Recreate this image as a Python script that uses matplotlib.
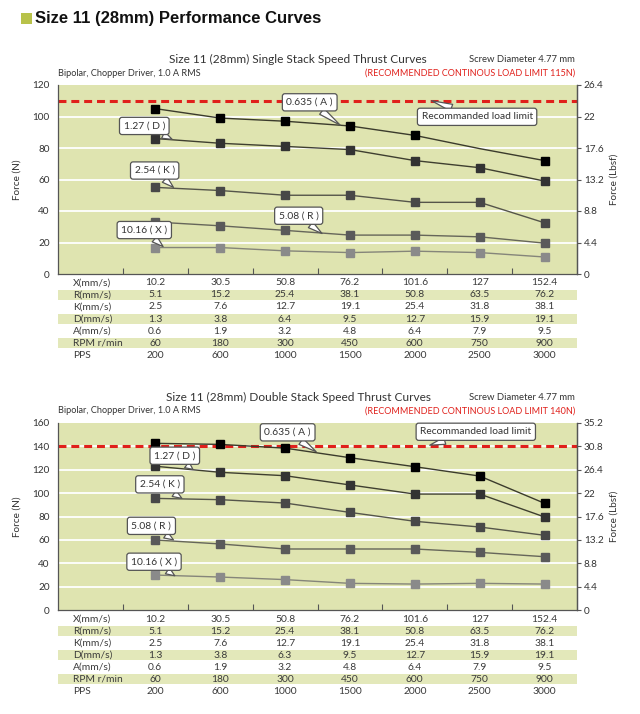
import matplotlib
matplotlib.use("Agg")
import matplotlib.pyplot as plt
from matplotlib.patches import Rectangle
import numpy as np

# ---------------- data ----------------
speed_labels = ["10.2", "30.5", "50.8", "76.2", "101.6", "127", "152.4"]
row_labels = ["X(mm/s)", "R(mm/s)", "K(mm/s)", "D(mm/s)", "A(mm/s)", "RPM r/min", "PPS"]
row_x = ["10.2", "30.5", "50.8", "76.2", "101.6", "127", "152.4"]
row_r = ["5.1", "15.2", "25.4", "38.1", "50.8", "63.5", "76.2"]
row_k = ["2.5", "7.6", "12.7", "19.1", "25.4", "31.8", "38.1"]
row_d_single = ["1.3", "3.8", "6.4", "9.5", "12.7", "15.9", "19.1"]
row_d_double = ["1.3", "3.8", "6.3", "9.5", "12.7", "15.9", "19.1"]
row_a = ["0.6", "1.9", "3.2", "4.8", "6.4", "7.9", "9.5"]
row_rpm = ["60", "180", "300", "450", "600", "750", "900"]
row_pps = ["200", "600", "1000", "1500", "2000", "2500", "3000"]

series_names = ["0.635 ( A )", "1.27 ( D )", "2.54 ( K )", "5.08 ( R )", "10.16 ( X )"]

single_A = [105, 99, 97, 94, 88, 79.6, 72]
single_D = [86, 83, 81, 79, 72, 67.5, 59]
single_K = [55, 53, 50, 50, 45.5, 45.5, 32.5]
single_R = [33, 30.6, 27.7, 24.7, 24.7, 23.6, 19.6]
single_X = [16.8, 16.8, 14.7, 13.6, 14.5, 13.6, 10.8]

double_A = [142.6, 141.7, 138.5, 130.3, 122.6, 114.6, 91.3]
double_D = [123, 117.8, 114.9, 107, 99.2, 99.2, 79.6]
double_K = [95.5, 94.4, 91.5, 83.5, 75.9, 71, 63.9]
double_R = [59.9, 56.5, 52.2, 52.2, 52.2, 49.3, 45.6]
double_X = [29.9, 28.2, 26, 22.8, 22.2, 22.8, 22.2]

single_limit = 110
double_limit = 140
single_ymax = 120
double_ymax = 160
n_to_lbf = 0.22

# ---------------- style ----------------
FONT = ["Lato", "DejaVu Sans"]
plt.rcParams["font.family"] = FONT
BG = "#dfe4b0"
BAND = "#e3e8ba"
TXT = "#3a3a3a"
SPINE = "#555555"
marker_colors = ["#000000", "#333333", "#484848", "#5a5a5a", "#8a8a8a"]
line_colors = ["#3b3b2c", "#3f3f30", "#55554a", "#66665a", "#85857a"]

W, H = 640, 714
fig = plt.figure(figsize=(W / 100, H / 100), dpi=100)


def fx(px):
    return px / W


def fy(py):
    return 1 - py / H


# header
fig.patches.append(Rectangle((fx(21), fy(24)), 11 / W, 11 / H, transform=fig.transFigure,
                             facecolor="#b8c24a", edgecolor="none"))
fig.text(fx(35), fy(19), "Size 11 (28mm) Performance Curves", fontsize=12, fontweight="bold",
         color="#111111", va="center", ha="left", family=["Liberation Sans", "DejaVu Sans"])


def draw_chart(top_px, bot_px, title, limit_text, ymax, limit, series, annos, drow):
    left_px, right_px = 58, 577
    # texts above chart
    fig.text(fx(298), fy(top_px - 26), title, fontsize=8.6, color="#333333", ha="center", va="center")
    fig.text(fx(575), fy(top_px - 25), "Screw Diameter 4.77 mm", fontsize=6.8, color="#333333",
             ha="right", va="center")
    fig.text(fx(58), fy(top_px - 12), "Bipolar, Chopper Driver, 1.0 A RMS", fontsize=6.6,
             color="#333333", ha="left", va="center")
    fig.text(fx(575), fy(top_px - 12), limit_text, fontsize=6.5, color="#e0201b",
             ha="right", va="center")

    ax = fig.add_axes([fx(left_px), fy(bot_px), (right_px - left_px) / W, (bot_px - top_px) / H])
    ax.set_facecolor(BG)
    ax.set_xlim(0, 8)
    ax.set_ylim(0, ymax)
    yt = np.arange(0, ymax + 1, 20)
    ax.set_yticks(yt)
    ax.set_yticklabels([str(int(v)) for v in yt])
    for v in yt[1:-1]:
        ax.axhline(v, color="white", lw=1.3, zorder=1)
    ax.set_xticks(np.arange(1, 8))
    ax.set_xticklabels([])
    ax.tick_params(axis="x", direction="in", length=4, color=SPINE, width=0.8)
    ax.tick_params(axis="y", length=0, pad=6, labelsize=7.2, labelcolor="#333333")
    for s in ["left", "bottom", "right"]:
        ax.spines[s].set_color(SPINE)
        ax.spines[s].set_linewidth(0.9)
    ax.spines["top"].set_visible(False)
    ax.set_ylabel("Force (N)", fontsize=7.2, color="#333333", labelpad=8)

    ax.axhline(limit, color="#e0201b", lw=2.2, ls=(0, (2.6, 1.6)), zorder=2)

    xs = np.arange(len(speed_labels)) + 1.5
    for i, vals in enumerate(series):
        vals = np.asarray(vals, dtype=float)
        ax.plot(xs, vals, color=line_colors[i], lw=1.0, zorder=3)
        mk = [j for j in range(len(vals)) if not (i == 0 and drow == "single" and j == 5)]
        ax.plot(xs[mk], vals[mk], ls="none", marker="s", ms=6.0, color=marker_colors[i],
                mec=marker_colors[i], zorder=4)

    for text, box, tip in annos:
        ax.annotate(text, xy=tip, xytext=box, fontsize=7.4, color="#333333", ha="center",
                    va="center", zorder=6,
                    bbox=dict(boxstyle="round,pad=0.4,rounding_size=0.25", fc="white", ec="#555555", lw=0.9),
                    arrowprops=dict(arrowstyle="wedge,tail_width=0.7,shrink_factor=0.5",
                                    fc="white", ec="#555555", lw=0.9, shrinkA=0, shrinkB=0))

    ax2 = ax.twinx()
    ax2.set_ylim(0, ymax * n_to_lbf)
    rt = yt * n_to_lbf
    ax2.set_yticks(rt)
    ax2.set_yticklabels([("%g" % round(v, 1)) for v in rt])
    ax2.tick_params(axis="y", length=3, width=0.8, color=SPINE, pad=2, labelsize=7.2,
                    labelcolor="#333333")
    for s in ["left", "bottom", "top"]:
        ax2.spines[s].set_visible(False)
    ax2.spines["right"].set_color(SPINE)
    ax2.spines["right"].set_linewidth(0.9)
    ax2.set_ylabel("Force (Lbsf)", fontsize=7.2, color="#333333", labelpad=4)

    # table
    t_top = bot_px + 3
    tax = fig.add_axes([fx(left_px), fy(t_top + 84), (right_px - left_px) / W, 84 / H])
    tax.set_xlim(0, 8)
    tax.set_ylim(7, 0)
    tax.axis("off")
    rows = [row_x, row_r, row_k, row_d_single if drow == "single" else row_d_double,
            row_a, row_rpm, row_pps]
    for r, (lab, vals) in enumerate(zip(row_labels, rows)):
        if r % 2 == 1:
            tax.add_patch(Rectangle((0, r + 0.08), 8, 0.84, facecolor=BAND, edgecolor="none"))
        tax.text(0.23, r + 0.5, lab, fontsize=7.4, color=TXT, ha="left", va="center")
        for c, v in enumerate(vals):
            tax.text(c + 1.5, r + 0.5, v, fontsize=7.4, color=TXT, ha="center", va="center")
    return ax


single_annos = [
    (series_names[0], (3.88, 109), (4.35, 94.5)),
    ("Recommanded load limit", (6.46, 99.8), (5.76, 110)),
    (series_names[1], (1.33, 94), (1.76, 85.5)),
    (series_names[2], (1.49, 65.7), (1.78, 55)),
    (series_names[3], (3.71, 37), (4.07, 25.7)),
    (series_names[4], (1.33, 27.9), (1.62, 17.4)),
]
double_annos = [
    (series_names[0], (3.54, 152), (3.98, 135.4)),
    ("Recommanded load limit", (6.44, 152.5), (5.73, 141)),
    (series_names[1], (1.80, 132), (2.08, 120.3)),
    (series_names[2], (1.57, 107.5), (1.91, 95.5)),
    (series_names[3], (1.44, 72), (1.78, 60)),
    (series_names[4], (1.48, 41.3), (1.80, 29.3)),
]

draw_chart(85, 274, "Size 11 (28mm) Single Stack Speed Thrust Curves",
           "(RECOMMENDED CONTINOUS LOAD LIMIT 115N)", single_ymax, single_limit,
           [single_A, single_D, single_K, single_R, single_X], single_annos, "single")
draw_chart(423, 610, "Size 11 (28mm) Double Stack Speed Thrust Curves",
           "(RECOMMENDED CONTINOUS LOAD LIMIT 140N)", double_ymax, double_limit,
           [double_A, double_D, double_K, double_R, double_X], double_annos, "double")

fig.savefig("out.png", dpi=100)
